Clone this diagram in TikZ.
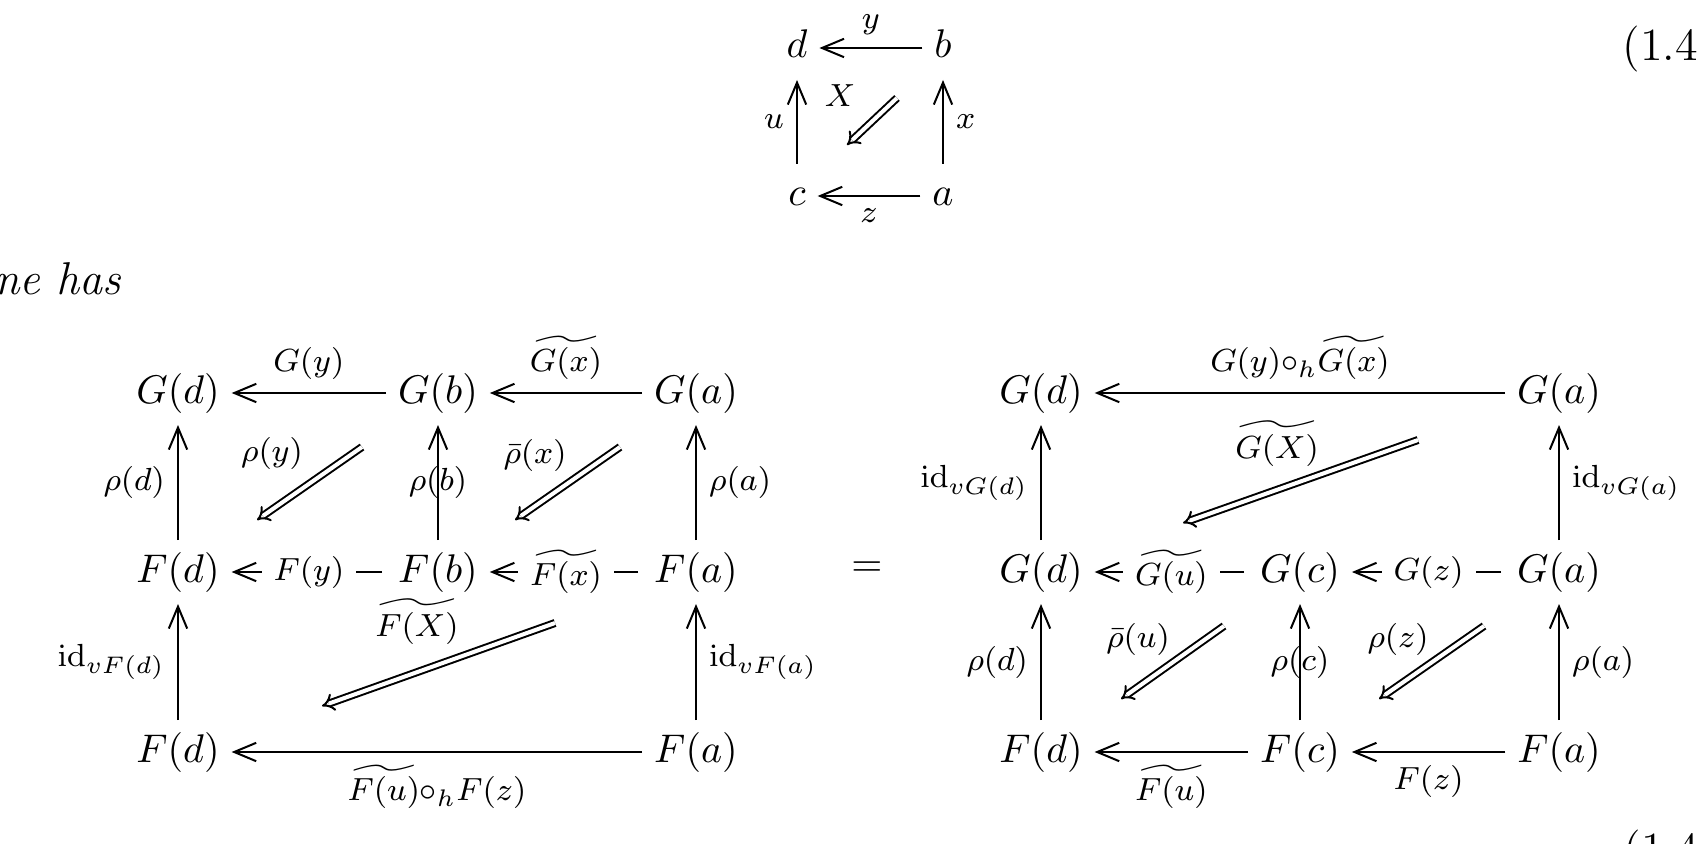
\documentclass[tikz,border=0pt]{standalone}
\usepackage{amsmath,amssymb}
\usepackage{tikz}
\usetikzlibrary{arrows.meta}
\tikzset{
  obj/.style  = {inner sep=3pt, outer sep=0pt, text height=7.5pt, text depth=2.5pt},
  lab/.style  = {font=\footnotesize, inner sep=3pt},
  inl/.style  = {font=\footnotesize, fill=white, inner xsep=3pt, inner ysep=1pt},
  arr/.style  = {-{Straight Barb[length=5.5pt,width=4.6pt,line width=.5pt]}, line width=.55pt},
  arrmid/.style = {arr, shorten <=1pt},
  cell/.style = {double, double distance=1pt, line width=.5pt, -{Implies[scale=1.3]}},
  body/.style = {font=\fontsize{11.5}{14}\selectfont, inner sep=0pt},
}

\begin{document}
\begin{tikzpicture}[x=.25pt,y=-.25pt]
\useasboundingbox (0,0) rectangle (1699,844);
\clip (0,0) rectangle (1699,844);

% running text around the displays
\node[body,anchor=base east] (has) at (122,295) {\textit{ne has}};
\node[body,anchor=base west] (eqA) at (1622,61) {(1.4};
\node[body,anchor=base west] (eqB) at (1623,864) {(1.4};

% the square X
\node[obj] (d) at (797,48)  {$d$};
\node[obj] (b) at (943,48)  {$b$};
\node[obj] (c) at (797,196) {$c$};
\node[obj] (a) at (943,196) {$a$};
\draw[arr] (b) -- node[lab,above] (ly) {$y$} (d);
\draw[arr] (a) -- node[lab,below] (lz) {$z$} (c);
\draw[arr] (c) -- node[lab,left]  (lu) {$u$} (d);
\draw[arr] (a) -- node[lab,right] (lx) {$x$} (b);
\coordinate (X1) at (897,98);
\coordinate (X2) at (847,145);
\draw[cell] (X1) -- (X2);
\node[lab] (lX) at (840,96) {$X$};

% left hand side
\node[obj] (lGd)  at (178,393) {$G(d)$};
\node[obj] (lGb)  at (438,393) {$G(b)$};
\node[obj] (lGa)  at (696,393) {$G(a)$};
\node[obj] (lFd)  at (178,572) {$F(d)$};
\node[obj] (lFb)  at (438,572) {$F(b)$};
\node[obj] (lFa)  at (696,572) {$F(a)$};
\node[obj] (lFd2) at (178,752) {$F(d)$};
\node[obj] (lFa2) at (696,752) {$F(a)$};

\draw[arr] (lGb) -- node[lab,above] (lGy) {$G(y)$} (lGd);
\draw[arr] (lGa) -- node[lab,above] (lGx) {$\widetilde{G(x)}$} (lGb);
\draw[arrmid] (lFb) -- node[inl] (lFy) {$F(y)$} (lFd);
\draw[arrmid] (lFa) -- node[inl] (lFx) {$\widetilde{F(x)}$} (lFb);
\draw[arr] (lFd) -- node[lab,left]  (lrd) {$\rho(d)$} (lGd);
\draw[arr] (lFb) -- node[lab]       (lrb) {$\rho(b)$} (lGb);
\draw[arr] (lFa) -- node[lab,right] (lra) {$\rho(a)$} (lGa);
\draw[arr] (lFd2) -- node[lab,left]  (lidd) {$\mathrm{id}_{vF(d)}$} (lFd);
\draw[arr] (lFa2) -- node[lab,right] (lida) {$\mathrm{id}_{vF(a)}$} (lFa);
\draw[arr] (lFa2) -- node[lab,below] (lFuz) {$\widetilde{F(u)}{\circ_h}F(z)$} (lFd2);

\coordinate (ry1) at (362,447);
\coordinate (ry2) at (257,520);
\draw[cell] (ry1) -- (ry2);
\node[lab] (lry) at (272,453) {$\rho(y)$};
\coordinate (rx1) at (620,447);
\coordinate (rx2) at (515,520);
\draw[cell] (rx1) -- (rx2);
\node[lab] (lrx) at (535,455) {$\bar{\rho}(x)$};
\coordinate (FX1) at (555,623);
\coordinate (FX2) at (322,706);
\draw[cell] (FX1) -- (FX2);
\node[lab] (lFX) at (417,622) {$\widetilde{F(X)}$};

\node[obj] (eq) at (867,566) {$=$};

% right hand side
\node[obj] (rGd)  at (1041,393) {$G(d)$};
\node[obj] (rGa)  at (1559,393) {$G(a)$};
\node[obj] (rGd2) at (1041,572) {$G(d)$};
\node[obj] (rGc)  at (1300,572) {$G(c)$};
\node[obj] (rGa2) at (1559,572) {$G(a)$};
\node[obj] (rFd)  at (1041,752) {$F(d)$};
\node[obj] (rFc)  at (1300,752) {$F(c)$};
\node[obj] (rFa)  at (1559,752) {$F(a)$};

\draw[arr] (rGa) -- node[lab,above] (rGyx) {$G(y){\circ_h}\widetilde{G(x)}$} (rGd);
\draw[arr] (rGd2) -- node[lab,left]  (ridd) {$\mathrm{id}_{vG(d)}$} (rGd);
\draw[arr] (rGa2) -- node[lab,right] (rida) {$\mathrm{id}_{vG(a)}$} (rGa);
\draw[arrmid] (rGc) -- node[inl] (rGu) {$\widetilde{G(u)}$} (rGd2);
\draw[arrmid] (rGa2) -- node[inl] (rGz) {$G(z)$} (rGc);
\draw[arr] (rFd) -- node[lab,left]  (rrd) {$\rho(d)$} (rGd2);
\draw[arr] (rFc) -- node[lab]       (rrc) {$\rho(c)$} (rGc);
\draw[arr] (rFa) -- node[lab,right] (rra) {$\rho(a)$} (rGa2);
\draw[arr] (rFc) -- node[lab,below] (rFu) {$\widetilde{F(u)}$} (rFd);
\draw[arr] (rFa) -- node[lab,below] (rFz) {$F(z)$} (rFc);

\coordinate (GX1) at (1418,440);
\coordinate (GX2) at (1183,523);
\draw[cell] (GX1) -- (GX2);
\node[lab] (lGX) at (1277,444) {$\widetilde{G(X)}$};
\coordinate (ru1) at (1224,626);
\coordinate (ru2) at (1121,699);
\draw[cell] (ru1) -- (ru2);
\node[lab] (lru) at (1138,639) {$\bar{\rho}(u)$};
\coordinate (rz1) at (1484,626);
\coordinate (rz2) at (1379,699);
\draw[cell] (rz1) -- (rz2);
\node[lab] (lrz) at (1398,639) {$\rho(z)$};
\end{tikzpicture}
\end{document}
